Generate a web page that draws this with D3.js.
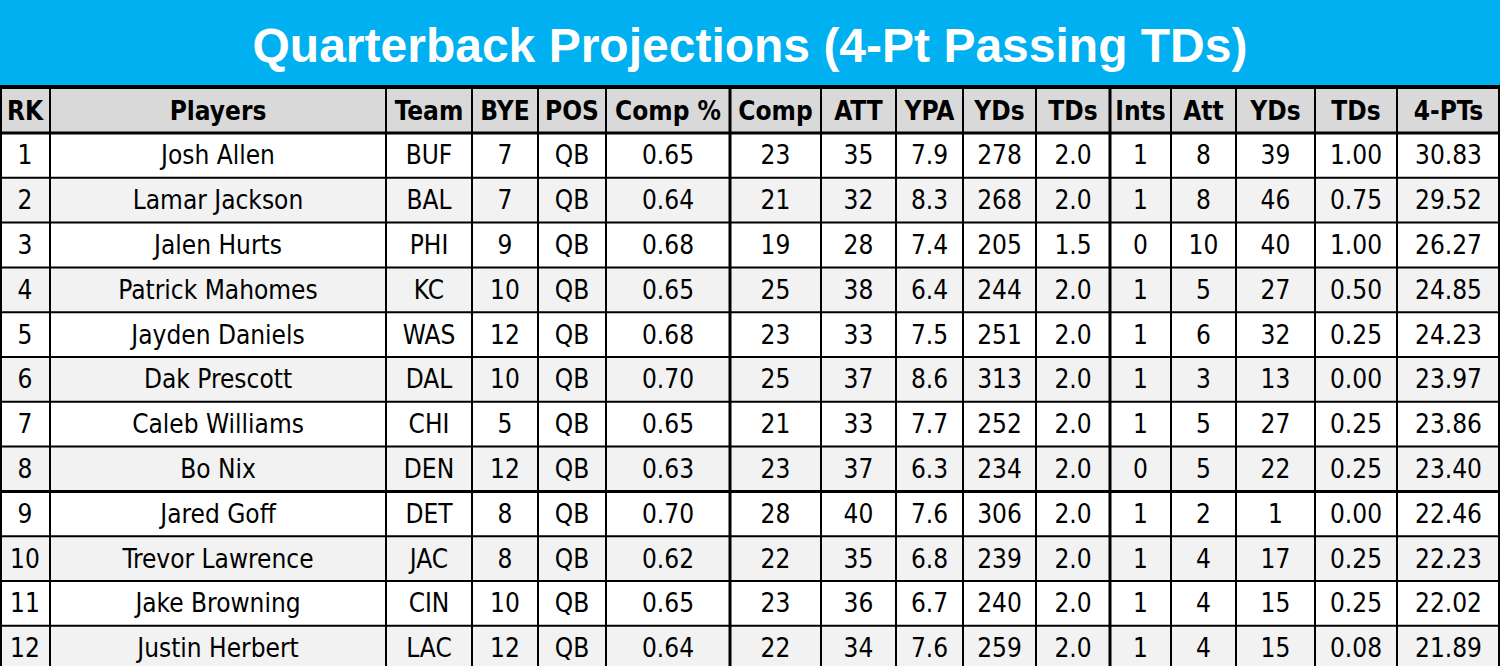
<!DOCTYPE html>
<html><head><meta charset="utf-8">
<script src="https://cdn.jsdelivr.net/npm/d3@7"></script>
<style>body{margin:0;background:#fff}</style></head>
<body><svg id="c" width="1500" height="666"></svg>
<script>
const title = "Quarterback Projections (4-Pt Passing TDs)";
const headers = ["RK","Players","Team","BYE","POS","Comp %","Comp","ATT","YPA","YDs","TDs","Ints","Att","YDs","TDs","4-PTs"];
const colEdges = [0,50,386,472,538,606,730,821,896,963,1036,1110,1171,1236,1315,1397,1500];
const players = ["Josh Allen","Lamar Jackson","Jalen Hurts","Patrick Mahomes","Jayden Daniels","Dak Prescott","Caleb Williams","Bo Nix","Jared Goff","Trevor Lawrence","Jake Browning","Justin Herbert"];
const teams = ["BUF","BAL","PHI","KC","WAS","DAL","CHI","DEN","DET","JAC","CIN","LAC"];
const byes = [7,7,9,10,12,10,5,12,8,8,10,12];
const compPct = ["0.65","0.64","0.68","0.65","0.68","0.70","0.65","0.63","0.70","0.62","0.65","0.64"];
const comp = [23,21,19,25,23,25,21,23,28,22,23,22];
const att = [35,32,28,38,33,37,33,37,40,35,36,34];
const ypa = ["7.9","8.3","7.4","6.4","7.5","8.6","7.7","6.3","7.6","6.8","6.7","7.6"];
const yds = [278,268,205,244,251,313,252,234,306,239,240,259];
const tds = ["2.0","2.0","1.5","2.0","2.0","2.0","2.0","2.0","2.0","2.0","2.0","2.0"];
const ints = [1,1,0,1,1,1,1,0,1,1,1,1];
const rushAtt = [8,8,10,5,6,3,5,5,2,4,4,4];
const rushYds = [39,46,40,27,32,13,27,22,1,17,15,15];
const rushTds = ["1.00","0.75","1.00","0.50","0.25","0.00","0.25","0.25","0.00","0.25","0.25","0.08"];
const pts = ["30.83","29.52","26.27","24.85","24.23","23.97","23.86","23.40","22.46","22.23","22.02","21.89"];

const rows = players.map((p,i)=>[i+1,p,teams[i],byes[i],"QB",compPct[i],comp[i],att[i],ypa[i],yds[i],tds[i],ints[i],rushAtt[i],rushYds[i],rushTds[i],pts[i]]);
const svg = d3.select("#c");
const font = "'Liberation Sans Narrow','DejaVu Sans Condensed',sans-serif";
const headTop = 88, headH = 45;
const y = d3.scaleBand().domain(d3.range(rows.length)).range([headTop+headH, headTop+headH+rows.length*44.8]);

svg.append("rect").attr("x",0).attr("y",0).attr("width",1500).attr("height",86).attr("fill","#00b0f0");
svg.append("text").attr("x",750).attr("y",62).attr("text-anchor","middle").attr("fill","#fff")
  .attr("font-family","'Liberation Sans',Arial,sans-serif").attr("font-weight","bold").attr("font-size",48).text(title);

svg.append("rect").attr("x",0).attr("y",headTop).attr("width",1500).attr("height",headH).attr("fill","#d9d9d9");
svg.selectAll("rect.row").data(rows).join("rect").attr("class","row")
  .attr("x",0).attr("y",(d,i)=>y(i)).attr("width",1500).attr("height",y.bandwidth())
  .attr("fill",(d,i)=>i%2?"#f2f2f2":"#ffffff");

const cx = j => (colEdges[j]+colEdges[j+1])/2;
svg.selectAll("text.h").data(headers).join("text").attr("class","h")
  .attr("x",(d,j)=>cx(j)).attr("y",headTop+headH/2+9).attr("text-anchor","middle")
  .attr("font-family",font).attr("font-weight","bold").attr("font-size",26).attr("fill","#000").text(d=>d);

const g = svg.selectAll("g.r").data(rows).join("g").attr("class","r");
g.selectAll("text").data(d=>d).join("text")
  .attr("x",(d,j)=>cx(j)).attr("y",function(){return 0;})
  .attr("text-anchor","middle").attr("font-family",font).attr("font-size",26).attr("fill","#000").text(d=>d);
g.each(function(d,i){ d3.select(this).selectAll("text").attr("y", y(i)+y.bandwidth()/2+9); });

// grid lines
const bottom = 666;
colEdges.slice(1,-1).forEach((x,j)=>{
  const thick = (x===730||x===1110);
  svg.append("line").attr("x1",x).attr("x2",x).attr("y1",headTop).attr("y2",bottom)
    .attr("stroke","#000").attr("stroke-width",thick?3:2);
});
svg.append("line").attr("x1",0).attr("x2",1500).attr("y1",headTop-1).attr("y2",headTop-1).attr("stroke","#000").attr("stroke-width",4);
d3.range(rows.length).forEach(i=>{
  svg.append("line").attr("x1",0).attr("x2",1500).attr("y1",y(i)).attr("y2",y(i))
    .attr("stroke","#000").attr("stroke-width",(i===0||i===8)?3:2);
});
svg.append("line").attr("x1",1).attr("x2",1).attr("y1",headTop).attr("y2",bottom).attr("stroke","#000").attr("stroke-width",2);
svg.append("line").attr("x1",1499).attr("x2",1499).attr("y1",headTop).attr("y2",bottom).attr("stroke","#000").attr("stroke-width",2);
</script></body></html>
